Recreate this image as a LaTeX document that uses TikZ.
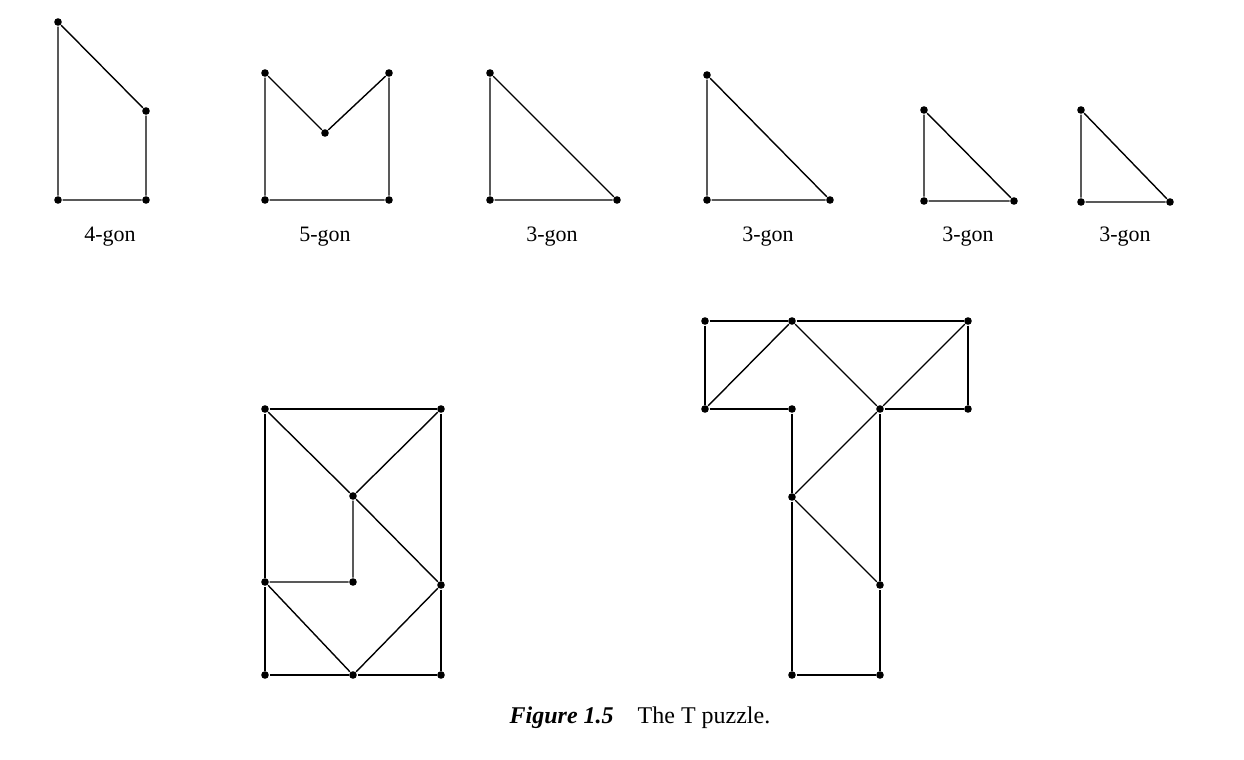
\documentclass[tikz,border=0pt]{standalone}
\usepackage{fontspec}
\setmainfont{Liberation Serif}
\begin{document}
\begin{tikzpicture}[x=0.5pt,y=-0.5pt,line width=0.7pt,
  dot/.style={circle,fill=black,inner sep=0pt,minimum size=3.8pt},
  lbl/.style={font=\fontsize{11}{13}\selectfont}]
\useasboundingbox (0,0) rectangle (1244,760);
% small pieces
\foreach \n/\x/\y in {a1/58/22,a2/146/111,a3/146/200,a4/58/200,
 b1/265/73,b2/325/133,b3/389/73,b4/389/200,b5/265/200,
 c1/490/73,c2/617/200,c3/490/200,
 d1/707/75,d2/830/200,d3/707/200,
 e1/924/110,e2/1014/201,e3/924/201,
 f1/1081/110,f2/1170/202,f3/1081/202}
  \node[dot] (\n) at (\x,\y) {};
\draw (a1)--(a2)--(a3)--(a4)--(a1);
\draw (b1)--(b2)--(b3)--(b4)--(b5)--(b1);
\draw (c1)--(c2)--(c3)--(c1);
\draw (d1)--(d2)--(d3)--(d1);
\draw (e1)--(e2)--(e3)--(e1);
\draw (f1)--(f2)--(f3)--(f1);
\foreach \n/\x in {l1/110,l2/325,l3/552,l4/768,l5/968,l6/1125}
  \node[lbl] (\n) at (\x,237) {\ifnum\x=110 4-gon\else\ifnum\x=325 5-gon\else 3-gon\fi\fi};
% left puzzle
\foreach \n/\x/\y in {p1/265/409,p2/441/409,p3/353/496,p4/353/582,p5/265/582,p6/441/585,p7/353/675,p8/265/675,p9/441/675}
  \node[dot] (\n) at (\x,\y) {};
\draw (p1)--(p2)--(p6)--(p9)--(p7)--(p8)--(p5)--(p1);
\draw (p1)--(p3)--(p2);
\draw (p3)--(p6);
\draw (p3)--(p4)--(p5)--(p7)--(p6);
% T puzzle
\foreach \n/\x/\y in {t1/705/321,t2/792/321,t3/968/321,t4/705/409,t5/792/409,t6/880/409,t7/968/409,t8/792/497,t9/880/585,t10/792/675,t11/880/675}
  \node[dot] (\n) at (\x,\y) {};
\draw (t1)--(t2)--(t3)--(t7)--(t6);
\draw (t1)--(t4)--(t5)--(t8)--(t10)--(t11)--(t9)--(t6);
\draw (t4)--(t2)--(t6)--(t3);
\draw (t6)--(t8)--(t9);
\node[lbl,font=\fontsize{12}{14}\selectfont] (cap) at (640,718) {\textbf{\textit{Figure 1.5}}\quad The T puzzle.};
\end{tikzpicture}
\end{document}
